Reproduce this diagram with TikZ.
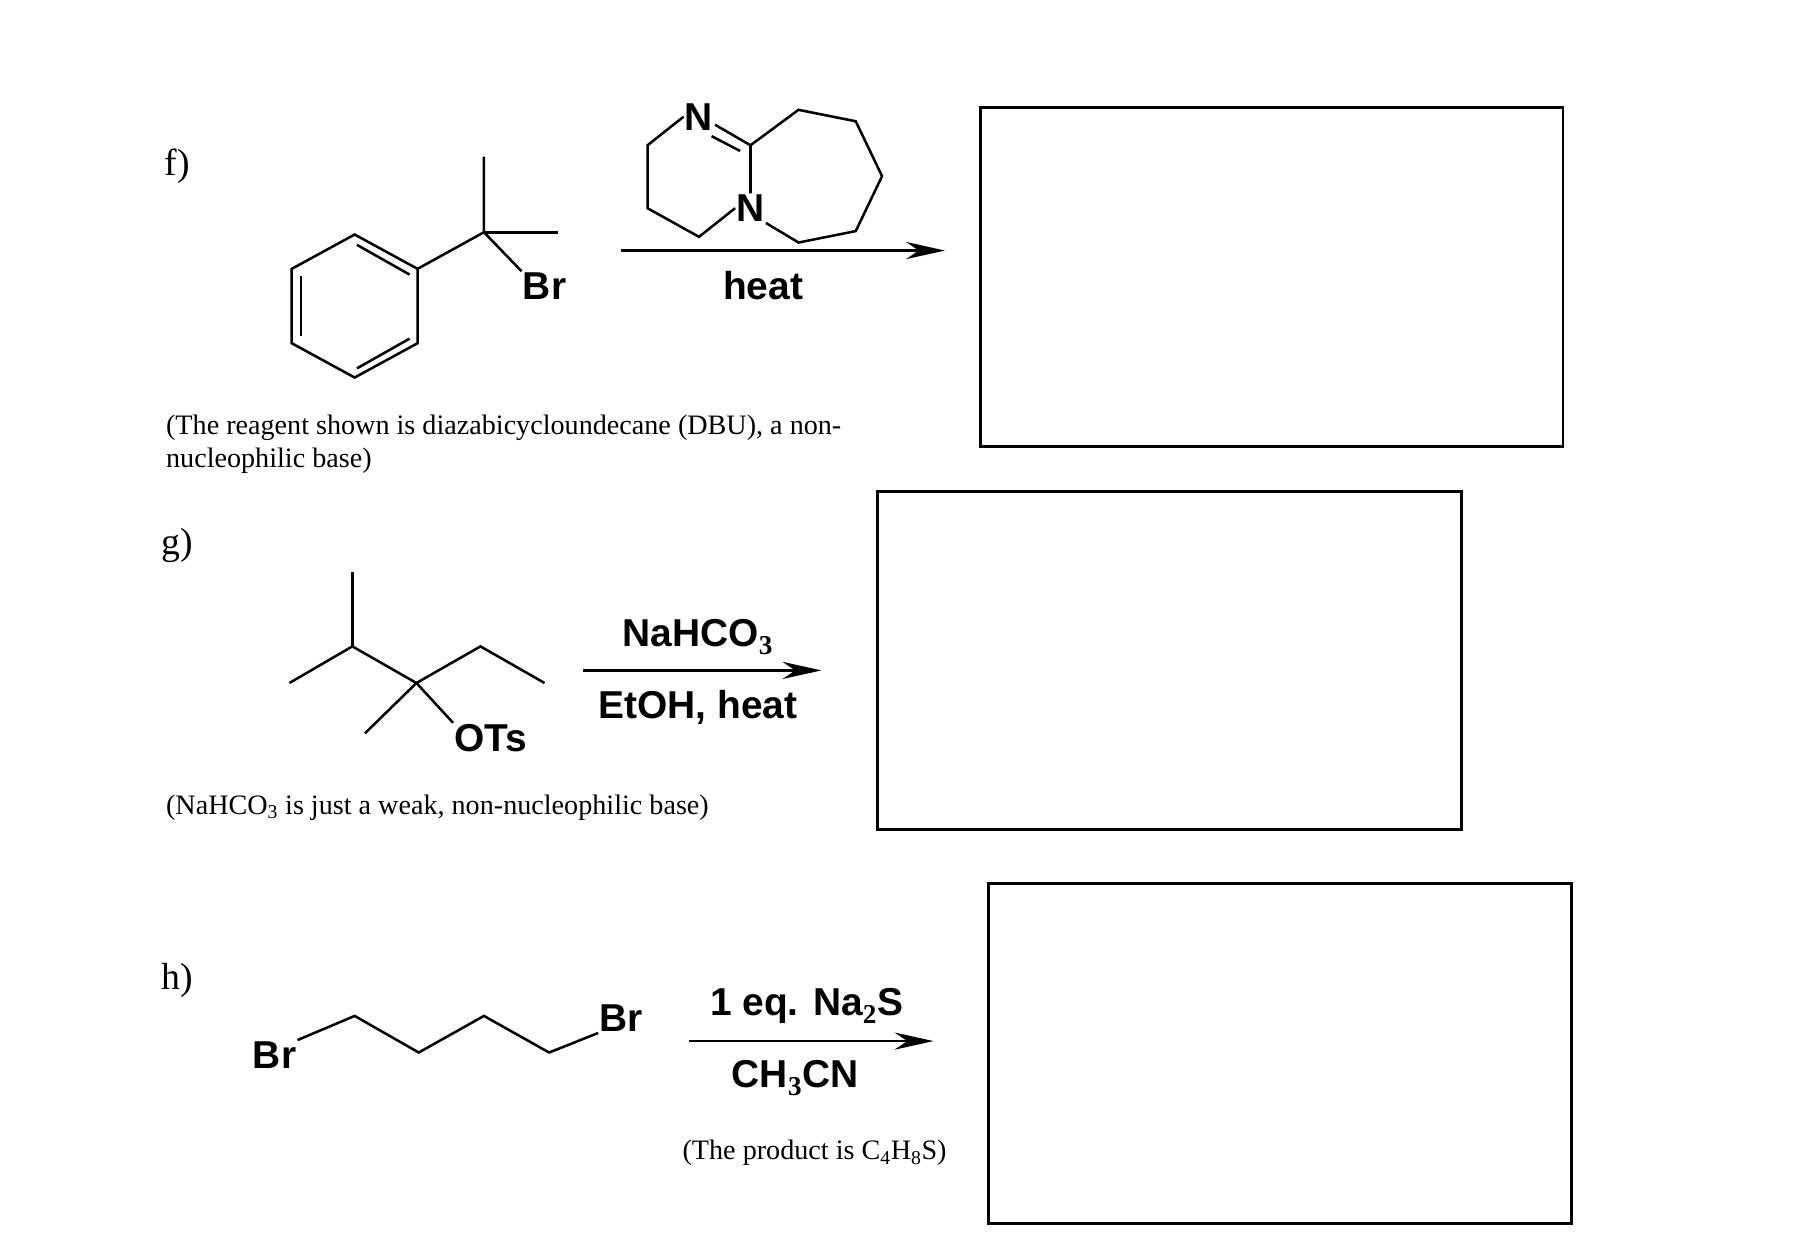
\documentclass[tikz,border=0pt]{standalone}
\usepackage{fontspec}
\setmainfont{Liberation Serif}
\newfontfamily\chem{Liberation Sans}
\usetikzlibrary{arrows.meta}
\tikzset{bond/.style={line width=2.2pt},
 lab/.style={font=\chem\bfseries\fontsize{34}{38}\selectfont, inner sep=1pt},
 note/.style={font=\fontsize{24.6}{29}\selectfont, anchor=west, inner sep=0pt, align=left},
 part/.style={font=\fontsize{33}{36}\selectfont, inner sep=0pt},
 rxn/.style={line width=2.2pt, -{Stealth[length=34pt,width=15pt]}},
 ansbox/.style={draw, line width=2.5pt}}
\begin{document}
\begin{tikzpicture}[x=1pt,y=-1pt]
\useasboundingbox (0,0) rectangle (1569,1087);
% f
\node[part] (pf) at (155,145) {f)};
\coordinate (b1) at (310,205); \coordinate (b2) at (365,235); \coordinate (b3) at (365,300);
\coordinate (b4) at (310,330); \coordinate (b5) at (255,300); \coordinate (b6) at (255,235);
\draw[bond] (b1)--(b2)--(b3)--(b4)--(b5)--(b6)--cycle;
\draw[bond] (312,214)--(358,240);
\draw[bond] (358,296)--(312,322);
\draw[bond] (263,241)--(263,294);
\coordinate (q) at (423,203);
\draw[bond] (b2)--(q)--(423,137);
\draw[bond] (q)--(488,203);
\node[lab] (brf) at (476,250) {Br};
\draw[bond] (q)--(brf.north west);
% DBU
\node[lab] (n1) at (611,102) {N};
\node[lab] (n2) at (656,182) {N};
\coordinate (c1) at (656,127); \coordinate (c2) at (611,207); \coordinate (c3) at (566,182); \coordinate (c4) at (566,127);
\draw[bond] (n1.west)--(c4)--(c3)--(c2)--(n2.west);
\draw[bond] (625,109)--(c1)--(n2.north);
\draw[bond] (622,119)--(647,132);
\draw[bond] (c1)--(698,96)--(748,106)--(771,154)--(748,202)--(698,212)--(n2.south east);
\node (a1) at (543,219) {};
\node (a1e) at (826,219) {};
\draw[rxn] (a1.center)--(a1e.center);
\node[lab] (heat) at (667,250) {heat};
\node[ansbox, minimum width=509pt, minimum height=296pt, anchor=north west] (box1) at (856,93) {};
\node[note] (nf) at (145,388) {(The reagent shown is diazabicycloundecane (DBU), a non-\\nucleophilic base)};
% g
\node[part] (pg) at (155,477) {g)};
\coordinate (g1) at (308,565); \coordinate (g2) at (364,597); \coordinate (g3) at (420,565);
\draw[bond] (308,500)--(g1);
\draw[bond] (253,597)--(g1)--(g2)--(g3)--(476,597);
\draw[bond] (g2)--(319,641);
\node[lab] (ots) at (429,645) {OTs};
\draw[bond] (g2)--(ots.north west);
\node (a2) at (510,586) {}; \node (a2e) at (718,586) {};
\draw[rxn] (a2.center)--(a2e.center);
\node[lab] (nahco) at (610,557) {NaHCO$_{\mathbf 3}$};
\node[lab] (etoh) at (610,618) {EtOH, heat};
\node[ansbox, minimum width=510pt, minimum height=296pt, anchor=north west] (box2) at (766,428) {};
\node[note] (ng) at (145,706) {(NaHCO\textsubscript{3} is just a weak, non-nucleophilic base)};
% h
\node[part] (ph) at (155,857) {h)};
\node[lab] (br1) at (240,922) {Br};
\node[lab] (br2) at (543,890) {Br};
\draw[bond] (br1.north east)--(310,888)--(366,920)--(423,888)--(480,920)--(br2.south west);
\node (a3) at (602,910) {}; \node (a3e) at (816,910) {};
\draw[rxn] (a3.center)--(a3e.center);
\node[lab] (na2s) at (705,879) {1 eq. Na$_{\mathbf 2}$S};
\node[lab] (ch3cn) at (695,942) {CH$_{\mathbf 3}$CN};
\node[note, anchor=center] (nh) at (712,1008) {(The product is C\textsubscript{4}H\textsubscript{8}S)};
\node[ansbox, minimum width=509pt, minimum height=297pt, anchor=north west] (box3) at (863,771) {};
\end{tikzpicture}
\end{document}
